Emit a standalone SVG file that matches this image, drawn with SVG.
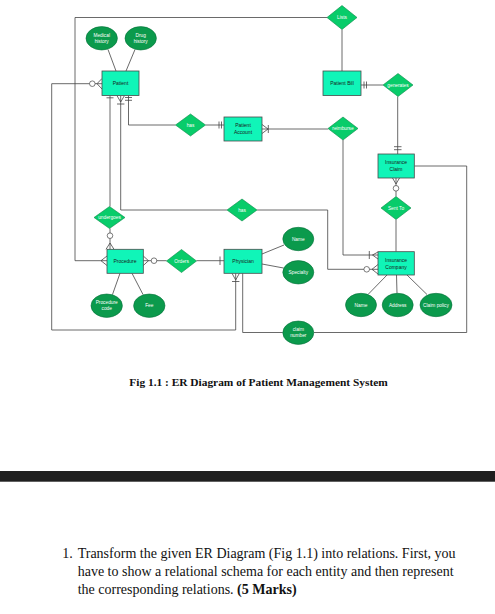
<svg xmlns="http://www.w3.org/2000/svg" width="495" height="614" viewBox="0 0 495 614">
<style>
.ent{fill:#10F5B8;stroke:#4a4a4a;stroke-width:0.8}
.rel{fill:#08CC6A;stroke:#0a8a48;stroke-width:0.6}
.att{fill:#0B9A4C;stroke:#07703a;stroke-width:0.6}
.ln{fill:none;stroke:#444;stroke-width:0.8}
.ck{fill:#fff;stroke:#444;stroke-width:0.7}
.te{font-family:"Liberation Sans",Arial,sans-serif;font-size:5px;fill:#1a1a1a;text-anchor:middle}
.tw{font-family:"Liberation Sans",Arial,sans-serif;font-size:4.8px;fill:#fff;text-anchor:middle}
.cap{font-family:"Liberation Serif","Times New Roman",serif;font-weight:bold;font-size:11.4px;fill:#111;text-anchor:middle}
.q{font-family:"Liberation Serif","Times New Roman",serif;font-size:14px;fill:#111}
</style>
<rect width="495" height="614" fill="#fff"/>

<g id="connectors">
  <!-- Lists / Patient to Procedure -->
  <polyline class="ln" points="107,260.7 75,260.7 75,17.5 327,17.5"/>
  <line class="ln" x1="101" y1="260.7" x2="107" y2="256"/>
  <line class="ln" x1="101" y1="260.7" x2="107" y2="265.5"/>
  <line class="ln" x1="342" y1="29.5" x2="342" y2="71"/>
  <!-- Patient left to Physician bottom -->
  <polyline class="ln" points="102,83.7 51.7,83.7 51.7,330 235.7,330 235.7,273.3"/>
  <line class="ln" x1="97" y1="83.7" x2="102" y2="78.5"/>
  <line class="ln" x1="97" y1="83.7" x2="102" y2="89"/>
  <circle class="ck" cx="92.3" cy="83.7" r="2.8"/>
  <polyline class="ln" points="232,273.3 235.7,280 239.4,273.3"/>
  <line class="ln" x1="232" y1="281.5" x2="239.4" y2="281.5"/>
  <!-- Patient to undergoes -->
  <line class="ln" x1="110" y1="95.7" x2="110" y2="206.5"/>
  <line class="ln" x1="106.5" y1="97.8" x2="113.5" y2="97.8"/>
  <!-- undergoes to Procedure -->
  <line class="ln" x1="110" y1="228.5" x2="110" y2="249.3"/>
  <circle class="ck" cx="110" cy="235.7" r="2.8"/>
  <line class="ln" x1="110" y1="243" x2="106" y2="249.3"/>
  <line class="ln" x1="110" y1="243" x2="114" y2="249.3"/>
  <!-- Patient to has2 to Insurance Company -->
  <polyline class="ln" points="120.7,95.7 120.7,210 227,210"/>
  <polyline class="ln" points="117,95.7 120.7,102 124.4,95.7"/>
  <line class="ln" x1="117" y1="104" x2="124.4" y2="104"/>
  <polyline class="ln" points="257,210 327.7,210 327.7,269.3 378,269.3"/>
  <circle class="ck" cx="366.7" cy="269.3" r="2.8"/>
  <line class="ln" x1="372" y1="269.3" x2="378" y2="264.5"/>
  <line class="ln" x1="372" y1="269.3" x2="378" y2="274"/>
  <!-- Patient to has1 -->
  <polyline class="ln" points="128.5,95.7 128.5,125 175.5,125"/>
  <line class="ln" x1="125" y1="97.5" x2="132" y2="97.5"/>
  <line class="ln" x1="125" y1="100.3" x2="132" y2="100.3"/>
  <!-- has1 to Patient Account -->
  <line class="ln" x1="205.5" y1="125" x2="224" y2="125"/>
  <line class="ln" x1="219" y1="121.5" x2="219" y2="128.5"/>
  <line class="ln" x1="221.5" y1="121.5" x2="221.5" y2="128.5"/>
  <!-- Patient Account to reimburse -->
  <line class="ln" x1="262" y1="129" x2="328" y2="129"/>
  <line class="ln" x1="268" y1="129" x2="262" y2="124.5"/>
  <line class="ln" x1="268" y1="129" x2="262" y2="133.5"/>
  <line class="ln" x1="268.3" y1="125" x2="268.3" y2="133"/>
  <!-- reimburse to Insurance Company -->
  <polyline class="ln" points="343,140 343,255 378,255"/>
  <line class="ln" x1="369.3" y1="251" x2="369.3" y2="259"/>
  <line class="ln" x1="372.5" y1="255" x2="378" y2="252"/>
  <line class="ln" x1="372.5" y1="255" x2="378" y2="259"/>
  <!-- Patient Bill to generates -->
  <line class="ln" x1="361" y1="85" x2="383" y2="85"/>
  <line class="ln" x1="364" y1="81.5" x2="364" y2="88.5"/>
  <line class="ln" x1="366.5" y1="81.5" x2="366.5" y2="88.5"/>
  <!-- generates to Insurance Claim -->
  <line class="ln" x1="397.7" y1="96.5" x2="397.7" y2="154"/>
  <line class="ln" x1="394" y1="146.7" x2="401.5" y2="146.7"/>
  <line class="ln" x1="394" y1="149.7" x2="401.5" y2="149.7"/>
  <!-- Insurance Claim to Sent to -->
  <line class="ln" x1="396" y1="178" x2="396" y2="196.5"/>
  <circle class="ck" cx="396" cy="188.3" r="2.8"/>
  <line class="ln" x1="396" y1="184" x2="392.5" y2="178"/>
  <line class="ln" x1="396" y1="184" x2="399.5" y2="178"/>
  <!-- Sent to to Insurance Company -->
  <line class="ln" x1="396" y1="219.5" x2="396" y2="251.7"/>
  <!-- Insurance Claim loop to claim number to Physician -->
  <polyline class="ln" points="414.3,166 466.7,166 466.7,332.5 313.8,332.5"/>
  <polyline class="ln" points="282.8,332.5 242.7,332.5 242.7,273.3"/>
  <!-- Procedure to Orders -->
  <line class="ln" x1="143.3" y1="260.7" x2="166.5" y2="260.7"/>
  <circle class="ck" cx="154" cy="260.7" r="2.8"/>
  <line class="ln" x1="148.5" y1="260.7" x2="143.3" y2="256"/>
  <line class="ln" x1="148.5" y1="260.7" x2="143.3" y2="265.5"/>
  <!-- Orders to Physician -->
  <line class="ln" x1="196.5" y1="260.7" x2="224" y2="260.7"/>
  <line class="ln" x1="220" y1="256.5" x2="220" y2="265"/>
  <!-- attribute lines -->
  <line class="ln" x1="108" y1="49.5" x2="116" y2="71"/>
  <line class="ln" x1="135" y1="49.5" x2="126" y2="71"/>
  <line class="ln" x1="262" y1="254" x2="284" y2="245"/>
  <line class="ln" x1="262" y1="264" x2="283.5" y2="268"/>
  <line class="ln" x1="120" y1="273.3" x2="112.5" y2="294.5"/>
  <line class="ln" x1="132" y1="273.3" x2="143" y2="294.5"/>
  <line class="ln" x1="387" y1="275" x2="368" y2="294.5"/>
  <line class="ln" x1="396.5" y1="275" x2="397" y2="293.5"/>
  <line class="ln" x1="407" y1="275" x2="427" y2="294.5"/>
</g>

<!-- Entities -->
<g id="patient"><rect class="ent" x="102" y="71" width="37" height="24.5"/><text class="te" x="120.5" y="85">Patient</text></g>
<g id="patient-bill"><rect class="ent" x="323" y="71" width="38" height="24.5"/><text class="te" x="342" y="85">Patient Bill</text></g>
<g id="patient-account"><rect class="ent" x="224" y="117" width="38" height="24"/><text class="te" x="243" y="127">Patient</text><text class="te" x="243" y="134">Account</text></g>
<g id="insurance-claim"><rect class="ent" x="378" y="154" width="36.3" height="24"/><text class="te" x="396" y="164">Insurance</text><text class="te" x="396" y="171">Claim</text></g>
<g id="procedure"><rect class="ent" x="107" y="249.3" width="36.3" height="24"/><text class="te" x="125" y="262.5">Procedure</text></g>
<g id="physician"><rect class="ent" x="224" y="249.3" width="38" height="24"/><text class="te" x="243" y="262.5">Physician</text></g>
<g id="insurance-company"><rect class="ent" x="378" y="251.7" width="36.3" height="23.3"/><text class="te" x="396" y="261.5">Insurance</text><text class="te" x="396" y="268.5">Company</text></g>

<!-- Relationships -->
<g id="lists"><polygon class="rel" points="327,17.5 342,5.5 357,17.5 342,29.5"/><text class="tw" x="342" y="19.2">Lists</text></g>
<g id="generates"><polygon class="rel" points="383,85 398,73.5 413,85 398,96.5"/><text class="tw" x="398" y="86.7">generates</text></g>
<g id="reimburse"><polygon class="rel" points="328,128.5 343,117 358,128.5 343,140"/><text class="tw" x="343" y="130.2">reimburse</text></g>
<g id="has1"><polygon class="rel" points="175.5,125 190.5,114 205.5,125 190.5,136"/><text class="tw" x="190.5" y="126.7">has</text></g>
<g id="has2"><polygon class="rel" points="227,210 242,199 257,210 242,221"/><text class="tw" x="242" y="211.7">has</text></g>
<g id="undergoes"><polygon class="rel" points="94,217.5 109.5,206.5 125,217.5 109.5,228.5"/><text class="tw" x="109.5" y="219.2">undergoes</text></g>
<g id="orders"><polygon class="rel" points="166.5,261 181.5,249.5 196.5,261 181.5,272.5"/><text class="tw" x="181.5" y="262.7">Orders</text></g>
<g id="sent-to"><polygon class="rel" points="381,208 396,196.5 411,208 396,219.5"/><text class="tw" x="396" y="209.7">Sent To</text></g>

<!-- Attributes -->
<g id="medical-history"><ellipse class="att" cx="101.7" cy="38.3" rx="15.7" ry="11.7"/><text class="tw" x="101.7" y="36.5">Medical</text><text class="tw" x="101.7" y="43">history</text></g>
<g id="drug-history"><ellipse class="att" cx="140.7" cy="38.3" rx="15.7" ry="11.7"/><text class="tw" x="140.7" y="36.5">Drug</text><text class="tw" x="140.7" y="43">history</text></g>
<g id="physician-name"><ellipse class="att" cx="298.3" cy="239" rx="15.5" ry="11.7"/><text class="tw" x="298.3" y="240.7">Name</text></g>
<g id="specialty"><ellipse class="att" cx="298.3" cy="272.3" rx="15.5" ry="11.7"/><text class="tw" x="298.3" y="274">Specialty</text></g>
<g id="claim-number"><ellipse class="att" cx="298.3" cy="332.7" rx="15.5" ry="11.7"/><text class="tw" x="298.3" y="330.7">claim</text><text class="tw" x="298.3" y="337.2">number</text></g>
<g id="procedure-code"><ellipse class="att" cx="106.7" cy="305.7" rx="15.7" ry="11.7"/><text class="tw" x="106.7" y="303.7">Procedure</text><text class="tw" x="106.7" y="310.2">code</text></g>
<g id="fee"><ellipse class="att" cx="149.3" cy="305.7" rx="15.7" ry="11.7"/><text class="tw" x="149.3" y="307.4">Fee</text></g>
<g id="company-name"><ellipse class="att" cx="361" cy="305" rx="15.5" ry="11.7"/><text class="tw" x="361" y="306.7">Name</text></g>
<g id="address"><ellipse class="att" cx="397.7" cy="305" rx="15.5" ry="11.7"/><text class="tw" x="397.7" y="306.7">Address</text></g>
<g id="claim-policy"><ellipse class="att" cx="436" cy="305" rx="16" ry="11.7"/><text class="tw" x="436" y="306.7">Claim policy</text></g>

<text class="cap" x="258.5" y="386">Fig 1.1 : ER Diagram of Patient Management System</text>

<rect x="0" y="471" width="495" height="10.7" fill="#1f1f1f"/>

<text class="q" x="62.3" y="558">1.</text>
<text class="q" x="77.7" y="558">Transform the given ER Diagram (Fig 1.1) into relations. First, you</text>
<text class="q" x="77.7" y="576">have to show a relational schema for each entity and then represent</text>
<text class="q" x="77.7" y="594">the corresponding relations. <tspan font-weight="bold">(5 Marks)</tspan></text>
</svg>
